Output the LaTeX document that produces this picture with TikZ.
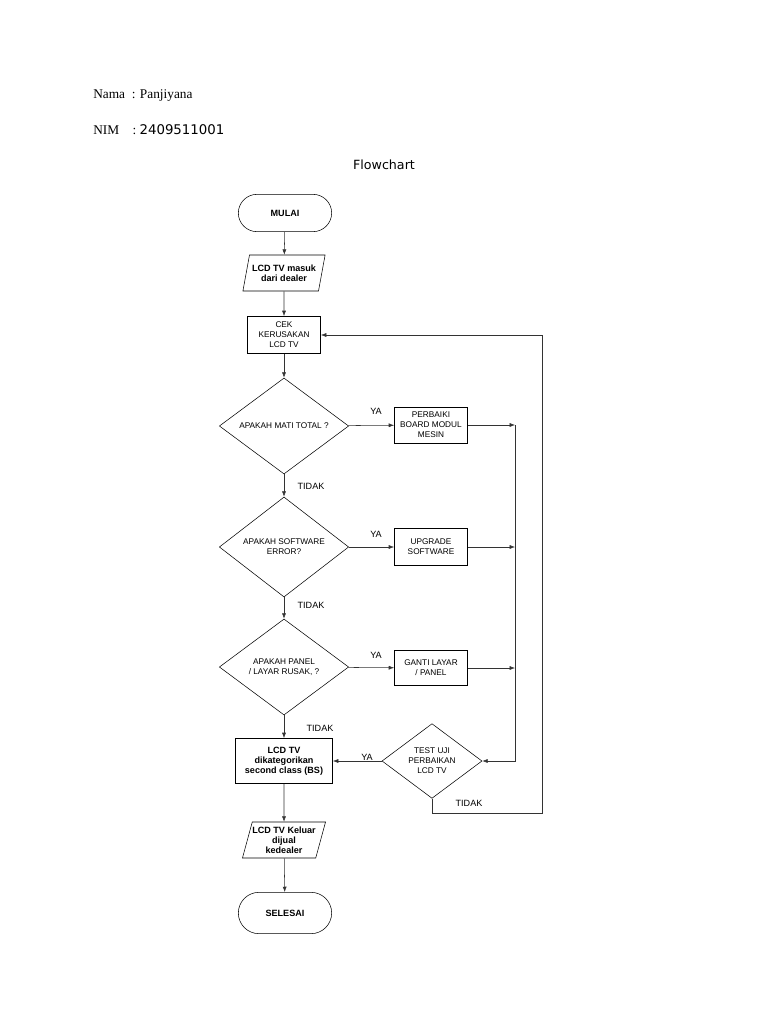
\documentclass[tikz,border=0pt]{standalone}
\usepackage{fontspec}
\setmainfont{Liberation Serif}
\newfontfamily\arialf{Liberation Sans}
\newfontfamily\dejaf{DejaVu Sans}
\usetikzlibrary{shapes.geometric,shapes.misc,arrows.meta}
\begin{document}
\begin{tikzpicture}[x=0.75pt,y=-0.75pt,
  every node/.style={inner sep=0pt,align=center},
  fc/.style={font=\arialf\fontsize{6.2}{7.4}\selectfont},
  fcb/.style={font=\arialf\bfseries\fontsize{6.8}{7.6}\selectfont},
  term/.style={draw,rounded rectangle,minimum width=70pt,minimum height=28pt,fcb},
  io/.style={draw,trapezium,trapezium left angle=70,trapezium right angle=110,minimum width=62pt,minimum height=27pt,fcb,trapezium stretches=true},
  proc/.style={draw,minimum width=55pt,minimum height=28pt,fc},
  dec/.style={draw,diamond,aspect=1.35,minimum width=97pt,minimum height=72pt,fc},
  lbl/.style={font=\arialf\fontsize{6.8}{8}\selectfont},
  ar/.style={draw=black!80,-{Latex[length=4pt,width=3pt]}},
  ln/.style={draw=black!80}]
\useasboundingbox (0,0) rectangle (768,1024);
\node[anchor=west,font=\fontsize{10}{12}\selectfont] (nama) at (93,96) {Nama\ \ : Panjiyana};
\node[anchor=west,font=\fontsize{10}{12}\selectfont] (nim) at (93,130) {NIM\ \ \ \ : {\dejaf 2409511001}};
\node[font=\dejaf\fontsize{9.5}{12}\selectfont] (title) at (384,165) {Flowchart};
\begin{scope}
\clip (0,0) rectangle (768,933);
\node[term] (mulai) at (285,213) {MULAI};
\node[io] (in) at (284,273) {LCD TV masuk\\dari dealer};
\node[proc] (cek) at (284,335) {CEK\\KERUSAKAN\\LCD TV};
\node[dec] (d1) at (284,426) {APAKAH MATI TOTAL ?};
\node[proc,minimum height=27pt] (b1) at (431,425) {PERBAIKI\\BOARD MODUL\\MESIN};
\node[dec,minimum height=75pt] (d2) at (284,547) {APAKAH SOFTWARE\\ERROR?};
\node[proc] (b2) at (431,547) {UPGRADE\\SOFTWARE};
\node[dec] (d3) at (284,667) {APAKAH PANEL\\/ LAYAR RUSAK, ?};
\node[proc,minimum height=26pt] (b3) at (431,668) {GANTI LAYAR\\/ PANEL};
\node[draw,minimum width=73pt,minimum height=34pt,fcb] (bs) at (284,761) {LCD TV\\dikategorikan\\second class (BS)};
\node[dec,aspect=1.33,minimum width=75pt,minimum height=56pt] (d4) at (432,761) {TEST UJI\\PERBAIKAN\\LCD TV};
\node[io,minimum width=60pt] (out) at (284,840) {LCD TV Keluar\\dijual\\kedealer};
\node[term,minimum height=31pt] (sel) at (285,913) {SELESAI};
\end{scope}
\coordinate (r1) at (515,425);
\coordinate (r2) at (515,547);
\coordinate (r3) at (515,668);
\coordinate (r4) at (515,761);
\coordinate (f1) at (432,813);
\coordinate (f2) at (542,813);
\coordinate (f3) at (542,335);
\draw[ar] (mulai) -- (in);
\draw[ar] (in) -- (cek);
\draw[ar] (cek) -- (d1);
\draw[ar] (d1) -- (d2);
\draw[ar] (d2) -- (d3);
\draw[ar] (d3) -- (bs);
\draw[ar] (bs) -- (out);
\draw[ar] (out) -- (sel);
\draw[ar] (d1) -- (b1);
\draw[ar] (d2) -- (b2);
\draw[ar] (d3) -- (b3);
\draw[ar] (b1) -- (r1);
\draw[ar] (b2) -- (r2);
\draw[ar] (b3) -- (r3);
\draw[ar] (r1) -- (r4) -- (d4);
\draw[ar] (d4) -- (bs);
\draw[ar] (d4.south) -- (f1) -- (f2) -- (f3) -- (cek);
\node[lbl] (y1) at (376,411) {YA};
\node[lbl] (y2) at (376,534) {YA};
\node[lbl] (y3) at (376,655) {YA};
\node[lbl] (y4) at (367,757) {YA};
\node[lbl] (t1) at (311,486) {TIDAK};
\node[lbl] (t2) at (311,605) {TIDAK};
\node[lbl] (t3) at (320,728) {TIDAK};
\node[lbl] (t4) at (469,803) {TIDAK};
\end{tikzpicture}
\end{document}
